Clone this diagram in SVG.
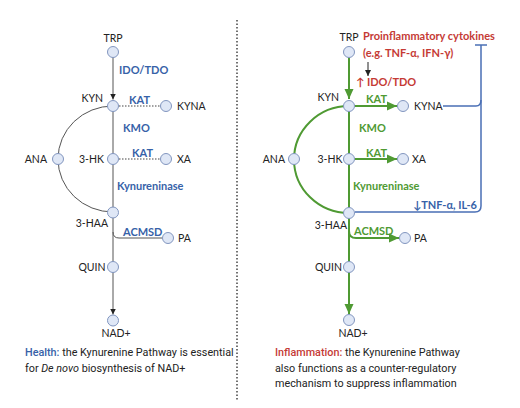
<svg xmlns="http://www.w3.org/2000/svg" width="520" height="408" viewBox="0 0 520 408">
<defs>
<style>
.lbl{font-family:Lato,"Noto Sans",sans-serif;font-size:10.5px;fill:#222}
.enz{font-family:Lato,"Noto Sans",sans-serif;font-size:11px;font-weight:bold}
.b{fill:#3762a8}
.g{fill:#4f9a33}
.r{fill:#c53a35}
.cap{font-family:Roboto,"Liberation Sans",sans-serif;font-size:10.8px;fill:#222}
.node{fill:#dfe7f6;stroke:#8296bf;stroke-width:1}
.gl{stroke:#555;stroke-width:1;fill:none}
.dot{stroke:#444;stroke-width:1.2;stroke-dasharray:1.5 1.5;fill:none}
.gr{stroke:#4f9a33;stroke-width:2;fill:none}
.bl{stroke:#4a6fb5;stroke-width:1.5;fill:none}
</style>
<marker id="ak" viewBox="0 0 6 6" refX="6" refY="3" markerWidth="6" markerHeight="6" markerUnits="userSpaceOnUse" orient="auto"><path d="M0,0 L6,3 L0,6 z" fill="#222"/></marker>
<marker id="ag" viewBox="0 0 10 10" refX="10" refY="5" markerWidth="10" markerHeight="10" markerUnits="userSpaceOnUse" orient="auto"><path d="M0,0.5 L10,5 L0,9.5 z" fill="#4f9a33"/></marker>
</defs>
<line x1="237" y1="20" x2="237" y2="400" stroke="#444" stroke-width="1.5" stroke-dasharray="1.5 2"/>
<g id="connectors">
<line class="gl" x1="113" y1="57" x2="113" y2="99.5" marker-end="url(#ak)"/>
<line class="gl" x1="113" y1="106" x2="113" y2="267"/>
<line class="gl" x1="113" y1="272" x2="113" y2="314.5" marker-end="url(#ak)"/>
<path class="gl" d="M113,106 A55,53 0 0 0 113,212"/>
<line class="dot" x1="119" y1="106" x2="160" y2="106"/>
<line class="dot" x1="119" y1="159" x2="160" y2="159"/>
<path class="gl" d="M113,232 Q113,238 119,238 H162.5"/>
<line class="gr" x1="349" y1="58" x2="349" y2="99"/>
<line class="gr" x1="349" y1="106" x2="349" y2="267"/>
<line class="gr" x1="349" y1="272" x2="349" y2="314"/>
<path class="gr" d="M349,106 A55,53.5 0 0 0 349,213"/>
<line class="gr" x1="355" y1="106" x2="397" y2="106" marker-end="url(#ag)"/>
<line class="gr" x1="355" y1="159" x2="397" y2="159" marker-end="url(#ag)"/>
<path class="gr" d="M349,231 Q349,238 356,238 H399" marker-end="url(#ag)"/>
<line class="gr" x1="349" y1="90" x2="349" y2="99" marker-end="url(#ag)"/>
<line class="gr" x1="349" y1="305" x2="349" y2="314" marker-end="url(#ag)"/>
<line x1="368" y1="62" x2="368" y2="76" stroke="#222" stroke-width="1" marker-end="url(#ak)"/>
<path class="bl" d="M443,106 H476 Q481,106 481,100"/>
<path class="bl" d="M481,45 V206 Q481,212 475,212 H355"/>
<line class="bl" x1="475" y1="45" x2="487" y2="45"/>
</g>
<g id="left-nodes">
<g id="TRP-L"><circle class="node" cx="113" cy="52" r="5.5"/><text class="lbl" x="113" y="42" text-anchor="middle">TRP</text></g>
<g id="KYN-L"><circle class="node" cx="113" cy="106" r="5.5"/><text class="lbl" x="103" y="101.5" text-anchor="end">KYN</text></g>
<g id="KYNA-L"><circle class="node" cx="166" cy="106" r="5.5"/><text class="lbl" x="177" y="110">KYNA</text></g>
<g id="ANA-L"><circle class="node" cx="58" cy="159" r="5.5"/><text class="lbl" x="47" y="163" text-anchor="end">ANA</text></g>
<g id="3HK-L"><circle class="node" cx="113" cy="159" r="5.5"/><text class="lbl" x="104" y="163" text-anchor="end">3-HK</text></g>
<g id="XA-L"><circle class="node" cx="166" cy="159" r="5.5"/><text class="lbl" x="177" y="163">XA</text></g>
<g id="3HAA-L"><circle class="node" cx="113" cy="212.5" r="5.5"/><text class="lbl" x="108" y="227" text-anchor="end">3-HAA</text></g>
<g id="PA-L"><circle class="node" cx="168" cy="238" r="5.5"/><text class="lbl" x="178" y="242">PA</text></g>
<g id="QUIN-L"><circle class="node" cx="113" cy="267" r="5.5"/><text class="lbl" x="105.5" y="271" text-anchor="end">QUIN</text></g>
<g id="NAD-L"><circle class="node" cx="113" cy="320.5" r="5.5"/><text class="lbl" x="116" y="337" text-anchor="middle">NAD+</text></g>
<g id="enz-L">
<text class="enz b" x="119" y="74">IDO/TDO</text>
<text class="enz b" x="129" y="104">KAT</text>
<text class="enz b" x="123" y="132">KMO</text>
<text class="enz b" x="132" y="157">KAT</text>
<text class="enz b" x="117" y="190">Kynureninase</text>
<text class="enz b" x="123" y="235.5">ACMSD</text>
</g>
<text class="cap" x="25" y="356"><tspan fill="#3762a8" font-weight="500">Health:</tspan> the Kynurenine Pathway is essential</text>
<text class="cap" x="25" y="371.5">for <tspan font-style="italic">De novo</tspan> biosynthesis of NAD+</text>
</g>
<g id="right-nodes">
<g id="TRP-R"><circle class="node" cx="349" cy="52" r="5.5"/><text class="lbl" x="349" y="41" text-anchor="middle">TRP</text></g>
<g id="KYN-R"><circle class="node" cx="349" cy="106" r="5.5"/><text class="lbl" x="339" y="101" text-anchor="end">KYN</text></g>
<g id="KYNA-R"><circle class="node" cx="403" cy="106" r="5.5"/><text class="lbl" x="414" y="110">KYNA</text></g>
<g id="ANA-R"><circle class="node" cx="294" cy="159" r="5.5"/><text class="lbl" x="285" y="163" text-anchor="end">ANA</text></g>
<g id="3HK-R"><circle class="node" cx="349" cy="159" r="5.5"/><text class="lbl" x="342.5" y="163" text-anchor="end">3-HK</text></g>
<g id="XA-R"><circle class="node" cx="403" cy="159" r="5.5"/><text class="lbl" x="412" y="163">XA</text></g>
<g id="3HAA-R"><circle class="node" cx="349" cy="213" r="5.5"/><text class="lbl" x="347" y="229" text-anchor="end">3-HAA</text></g>
<g id="PA-R"><circle class="node" cx="405" cy="238" r="5.5"/><text class="lbl" x="414" y="242">PA</text></g>
<g id="QUIN-R"><circle class="node" cx="349" cy="267" r="5.5"/><text class="lbl" x="342" y="271" text-anchor="end">QUIN</text></g>
<g id="NAD-R"><circle class="node" cx="349" cy="320" r="5.5"/><text class="lbl" x="353" y="337" text-anchor="middle">NAD+</text></g>
<g id="cyto"><text class="enz r" x="363" y="40" font-size="11.5">Proinflammatory cytokines</text><text class="enz r" x="363" y="56.5" font-size="11.5">(e.g. TNF-α, IFN-γ)</text></g>
<g id="enz-R">
<text class="enz r" x="356" y="86" font-size="11.5">↑ IDO/TDO</text>
<text class="enz g" x="366" y="103">KAT</text>
<text class="enz g" x="359" y="132">KMO</text>
<text class="enz g" x="366" y="157">KAT</text>
<text class="enz g" x="353" y="190">Kynureninase</text>
<text class="enz g" x="354" y="235">ACMSD</text>
<text class="enz b" x="477" y="209" text-anchor="end">↓TNF-α, IL-6</text>
</g>
<text class="cap" x="275" y="356"><tspan fill="#c53a35" font-weight="500">Inflammation:</tspan> the Kynurenine Pathway</text>
<text class="cap" x="275" y="371.5">also functions as a counter-regulatory</text>
<text class="cap" x="275" y="387">mechanism to suppress inflammation</text>
</g>
</svg>
